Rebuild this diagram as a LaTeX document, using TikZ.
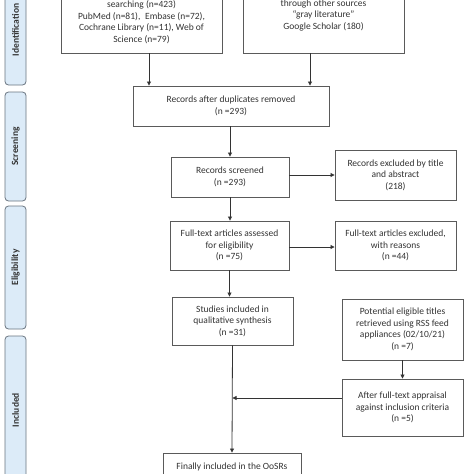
\documentclass[tikz,border=0pt]{standalone}
\usepackage{fontspec}
\setmainfont{Carlito}
\usetikzlibrary{arrows.meta}
\definecolor{txtc}{HTML}{333333}
\definecolor{boxc}{HTML}{5A5A5A}
\definecolor{phfill}{HTML}{DCEBF8}
\definecolor{phdraw}{HTML}{6A7480}
\tikzset{
  box/.style={draw=boxc, line width=0.9pt, text=txtc, align=center, inner sep=0pt, anchor=center,
    font=\fontsize{9.5}{11.5}\selectfont},
  lbl/.style={text=txtc, align=center, inner sep=0pt, font=\fontsize{9.5}{11.5}\selectfont},
  phase/.style={draw=phdraw, fill=phfill, line width=0.8pt, rounded corners=3.5pt, rotate=90,
    minimum height=21pt, inner sep=0pt, text=txtc, font=\fontsize{9.5}{11}\selectfont\bfseries},
  arr/.style={draw=txtc, line width=0.8pt, -{Triangle[length=4pt,width=4pt]}}
}
\begin{document}
\begin{tikzpicture}[x=1pt,y=-1pt]
\useasboundingbox (0,0) rectangle (474,474);
\clip (0,0) rectangle (474,474);
% phases
\node[phase, minimum width=110pt] (ph1) at (15.5,30) {Identification};
\node[phase, minimum width=109pt] (ph2) at (15.5,146.5) {Screening};
\node[phase, minimum width=123pt] (ph3) at (15.5,267.5) {Eligibility};
\node[phase, minimum width=148pt] (ph4) at (15.5,410) {Included};
% boxes
\node[box, minimum width=161pt, minimum height=78pt] (idl) at (141.5,14) {};
\node[lbl] (idlt) at (141.5,15.5) {Records identified through database\\[2pt] searching (n=423)\\ PubMed (n=81),\enspace Embase (n=72),\\ Cochrane Library (n=11), Web of\\ Science (n=79)};
\node[box, minimum width=161pt, minimum height=90pt] (idr) at (323.5,8) {};
\node[lbl] (idrt) at (323.5,9) {Additional records identified\\[1pt] through other sources\\ “gray literature”\\ Google Scholar (180)};
\node[box, minimum width=196pt, minimum height=40pt] (dup) at (231,106) {Records after duplicates removed\\ (n =293)};
\node[box, minimum width=118pt, minimum height=40pt] (scr) at (230,177) {Records screened\\ (n =293)};
\node[box, minimum width=121pt, minimum height=50pt] (ex1) at (395.5,175) {Records excluded by title\\ and abstract\\ (218)};
\node[box, minimum width=119pt, minimum height=49pt] (elig) at (229.5,245.5) {Full-text articles assessed\\ for eligibility\\ (n =75)};
\node[box, minimum width=121pt, minimum height=49pt] (ex2) at (395.5,245.5) {Full-text articles excluded,\\ with reasons\\ (n =44)};
\node[box, minimum width=121pt, minimum height=48pt] (stud) at (232.5,321) {Studies included in\\ qualitative synthesis\\ (n =31)};
\node[box, minimum width=121pt, minimum height=61pt] (pot) at (402.5,329.5) {Potential eligible titles\\ retrieved using RSS feed\\ appliances (02/10/21)\\ (n =7)};
\node[box, minimum width=121pt, minimum height=57pt] (aft) at (402.5,407.5) {After full-text appraisal\\ against inclusion criteria\\ (n =5)};
\node[box, minimum width=138pt, minimum height=47pt] (fin) at (232,476.5) {};
\node[lbl] (fint) at (232,467) {Finally included in the OoSRs};
% connectors
\coordinate (j) at (232.5,398);
\draw[arr] ([xshift=7.5pt]idl.south) -- ([xshift=7.5pt]idl.south |- dup.north);
\draw[arr] ([xshift=-13.5pt]idr.south) -- ([xshift=-13.5pt]idr.south |- dup.north);
\draw[arr] (scr.north |- dup.south) -- (scr.north);
\draw[arr] (scr.south) -- (scr.south |- elig.north);
\draw[arr] (scr.east |- ex1.west) -- (ex1.west);
\draw[arr] ([yshift=-1.5pt]elig.east) -- ([yshift=-1.5pt]ex2.west);
\draw[arr] (elig.south) -- (elig.south |- stud.north);
\draw[arr] (pot.south) -- (aft.north);
\draw[arr] (aft.west |- j) -- (j);
\draw[arr] (stud.south) -- (fin.north);
\end{tikzpicture}
\end{document}
